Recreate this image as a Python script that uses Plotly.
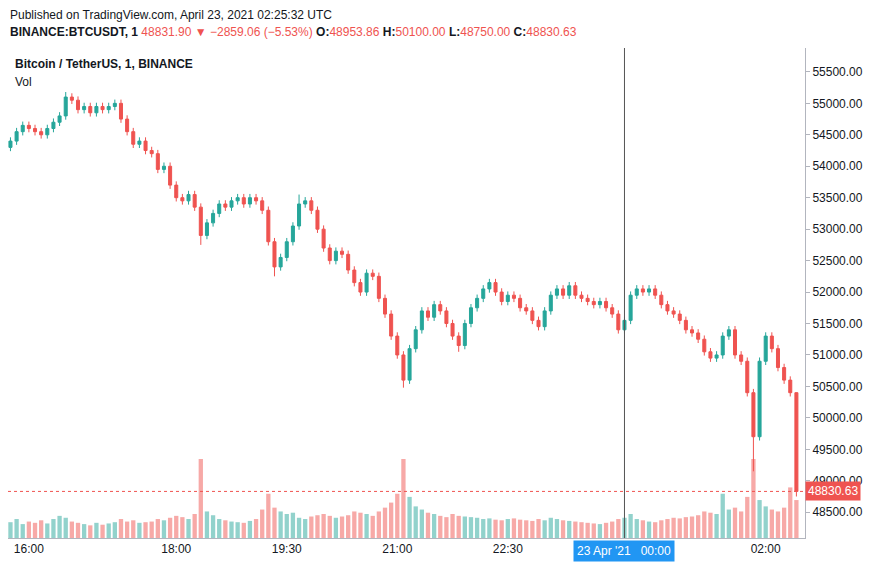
import pandas as pd
import plotly.graph_objects as go

# ── Data (5-minute resolution) ──────────────────────────────────────────────
start_time = "2021-04-22 15:45"

closes = [
    54400, 54550, 54650, 54600, 54550, 54500, 54600, 54700, 54800, 55100, 55050, 54900,
    54950, 54850, 54950, 54900, 54950, 55000, 54750, 54550, 54350, 54400, 54250, 54200,
    53950, 54000, 53700, 53500, 53450, 53550, 53350, 52900, 53100, 53250, 53400, 53350,
    53450, 53500, 53400, 53500, 53450, 53300, 52800, 52400, 52550, 52800, 53050, 53400,
    53450, 53300, 53000, 52700, 52500, 52650, 52600, 52350, 52150, 52000, 52300, 52250,
    51900, 51650, 51300, 51000, 50600, 51100, 51400, 51700, 51600, 51800, 51700, 51500,
    51300, 51150, 51500, 51750, 51900, 52050, 52150, 52000, 51850, 51950, 51900, 51750,
    51700, 51550, 51450, 51700, 51950, 52050, 51950, 52100, 51950, 51900, 51850, 51800,
    51850, 51750, 51650, 51400, 51550, 51950, 52050, 52000, 52050, 51950, 51800, 51700,
    51650, 51550, 51400, 51350, 51250, 51050, 50950, 51000, 51300, 51400, 51000, 50900,
    50400, 49700, 50900, 51300, 51100, 50800, 50600, 50400, 48830,
]

volumes = [
    250, 300, 220, 260, 240, 280, 230, 300, 350, 320, 260, 240,
    220, 200, 240, 210, 230, 250, 300, 260, 280, 240, 250, 260,
    300, 280, 320, 350, 330, 300, 380, 1250, 420, 360, 300, 280,
    260, 250, 240, 270, 300, 450, 700, 480, 420, 380, 400, 320,
    300, 340, 360, 380, 350, 320, 340, 360, 420, 400, 380, 350,
    420, 480, 560, 700, 1250, 650, 500, 450, 400, 380, 350, 330,
    380, 350, 340, 330, 320, 300, 310, 290, 280, 300, 310, 290,
    280, 270, 300, 280, 320, 300, 280, 270, 260, 250, 240, 230,
    220, 240, 260, 300, 320, 380, 300, 280, 260, 250, 280, 300,
    320, 310, 330, 340, 360, 420, 400, 380, 700, 450, 480, 420,
    650, 1250, 600, 500, 450, 420, 480, 800, 600,
]

# notable wick extremes (index: (high, low))
wick_extremes = {9: (55180, None), 31: (None, 52750), 43: (None, 52250),
                 47: (53550, None), 64: (None, 50480), 73: (None, 51050),
                 121: (None, 49150), 128: (50100, 48750)}

tick_vals = ["2021-04-22 16:00", "2021-04-22 18:00", "2021-04-22 19:30",
             "2021-04-22 21:00", "2021-04-22 22:30", "2021-04-23 02:00"]
tick_text = ["16:00", "18:00", "19:30", "21:00", "22:30", "02:00"]
price_ticks = list(range(48500, 56000, 500))

UP, DOWN = "#26a69a", "#ef5350"

times = pd.date_range(start_time, periods=len(closes), freq="5min")
opens = [closes[0] - 100] + closes[:-1]
highs = [max(o, c) + 60 for o, c in zip(opens, closes)]
lows = [min(o, c) - 60 for o, c in zip(opens, closes)]
for i, (h, l) in wick_extremes.items():
    if h is not None:
        highs[i] = h
    if l is not None:
        lows[i] = l

vol_colors = ["rgba(38,166,154,0.5)" if c >= o else "rgba(239,83,80,0.5)"
              for o, c in zip(opens, closes)]

fig = go.Figure()

fig.add_trace(go.Bar(
    x=times, y=volumes, marker=dict(color=vol_colors, line=dict(width=0)),
    yaxis="y2", showlegend=False, hoverinfo="skip",
))

fig.add_trace(go.Candlestick(
    x=times, open=opens, high=highs, low=lows, close=closes,
    increasing=dict(line=dict(color=UP, width=1), fillcolor=UP),
    decreasing=dict(line=dict(color=DOWN, width=1), fillcolor=DOWN),
    showlegend=False,
))

last = closes[-1] + 0.63

# ── Layout ───────────────────────────────────────────────────────────────
# page body adds an 8px offset, so margins are set relative to that
fig.update_layout(
    width=886, height=572,
    margin=dict(l=0, r=89, t=40, b=42, autoexpand=False),
    plot_bgcolor="#FFFFFF", paper_bgcolor="#FFFFFF",
    font=dict(family="Arial", size=12, color="#131722"),
    bargap=0.3,
    xaxis=dict(
        type="date", rangeslider=dict(visible=False),
        range=["2021-04-22 15:43", "2021-04-23 02:32"],
        tickvals=tick_vals, ticktext=tick_text, ticks="",
        showgrid=False, showline=True, linecolor="#b2b5be",
        tickfont=dict(size=12, color="#131722"),
    ),
    yaxis=dict(
        side="right", range=[48090, 55880], tickvals=price_ticks,
        ticktext=[f"{v:.2f}" for v in price_ticks], showgrid=False,
        showline=True, linecolor="#b2b5be", ticks="outside", ticklen=4,
        tickcolor="#b2b5be", tickfont=dict(size=12, color="#131722"),
    ),
    yaxis2=dict(overlaying="y", range=[0, max(volumes) * 6.2], visible=False),
    shapes=[
        dict(type="line", xref="x", yref="paper", x0="2021-04-23 00:05",
             x1="2021-04-23 00:05", y0=0, y1=1, line=dict(color="#555", width=1)),
        dict(type="line", xref="paper", yref="y", x0=0, x1=1, y0=last, y1=last,
             line=dict(color=DOWN, width=1, dash="dot")),
    ],
)

fig.add_annotation(text="Published on TradingView.com, April 23, 2021 02:25:32 UTC",
                   xref="paper", yref="paper", x=0, y=1.0, yshift=42,
                   xanchor="left", showarrow=False, font=dict(size=12))
header = ("<b>BINANCE:BTCUSDT, 1</b> <span style='color:#ef5350'>48831.90 ▼ −2859.06 (−5.53%)</span>"
          " <b>O:</b><span style='color:#ef5350'>48953.86</span>"
          " <b>H:</b><span style='color:#ef5350'>50100.00</span>"
          " <b>L:</b><span style='color:#ef5350'>48750.00</span>"
          " <b>C:</b><span style='color:#ef5350'>48830.63</span>")
fig.add_annotation(text=header, xref="paper", yref="paper", x=0, y=1.0, yshift=25,
                   xanchor="left", showarrow=False, font=dict(size=12))
fig.add_annotation(text="<b>Bitcoin / TetherUS, 1, BINANCE</b>", xref="paper", yref="paper",
                   x=0.006, y=0.985, xanchor="left", yanchor="top", showarrow=False,
                   font=dict(size=12))
fig.add_annotation(text="Vol", xref="paper", yref="paper", x=0.006, y=0.95,
                   xanchor="left", yanchor="top", showarrow=False, font=dict(size=12))
fig.add_annotation(text=f"{last:.2f}", xref="paper", yref="y", x=1.0, y=last,
                   xanchor="left", showarrow=False, bgcolor=DOWN,
                   font=dict(size=12, color="white"), borderpad=2)
fig.add_annotation(text="23 Apr '21   00:00", xref="x", yref="paper",
                   x="2021-04-23 00:05", y=0, yanchor="top", yshift=-2,
                   showarrow=False, bgcolor="#2196f3",
                   font=dict(size=12, color="white"), borderpad=3)

fig.write_html("out.html")
